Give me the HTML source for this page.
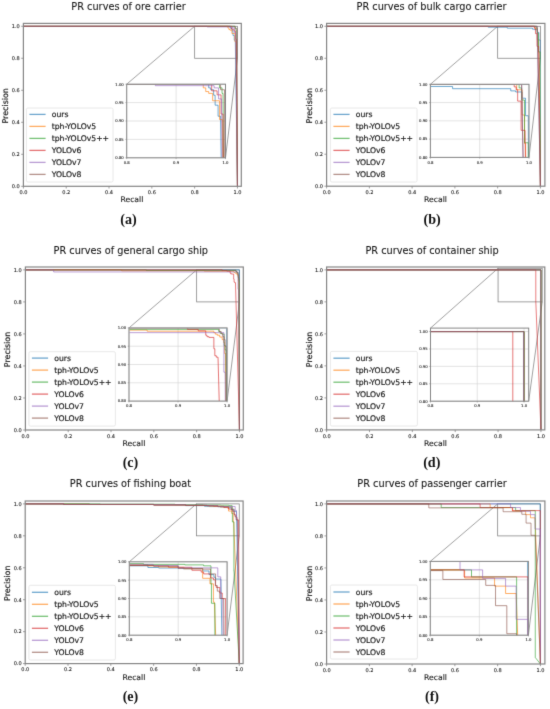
<!DOCTYPE html>
<html><head><meta charset="utf-8"><title>PR curves</title>
<style>html,body{margin:0;padding:0;background:#fff;} svg{display:block;}</style>
</head><body>
<svg width="550" height="709" viewBox="0 0 550 709">
<defs><filter id="bl" filterUnits="userSpaceOnUse" x="-10" y="-10" width="570" height="729" color-interpolation-filters="sRGB"><feConvolveMatrix order="3" kernelMatrix="0.0100 0.0800 0.0100 0.0800 0.6400 0.0800 0.0100 0.0800 0.0100" divisor="1" edgeMode="duplicate" preserveAlpha="true"/></filter></defs>
<rect width="550" height="709" fill="#fff"/>
<g filter="url(#bl)">
<rect x="-10" y="-10" width="570" height="729" fill="#fff"/>
<clipPath id="c0"><rect x="23.4" y="23.4" width="217.9" height="162.9"/></clipPath>
<rect x="194.64" y="26.28" width="42.81" height="32" fill="none" stroke="#888" stroke-width="0.8"/>
<line x1="194.64" y1="26.28" x2="126.7" y2="84.2" stroke="#888" stroke-width="0.8"/>
<line x1="237.45" y1="58.28" x2="225.5" y2="157.8" stroke="#888" stroke-width="0.8"/>
<g clip-path="url(#c0)" fill="none" stroke-width="0.8" stroke-opacity="0.75" stroke-linejoin="miter">
<path d="M23.4 26.28L230.17 26.28L230.17 27.88L231.03 27.88L231.03 28.68L232.31 28.68L232.31 31.08L232.95 31.08L232.95 35.4L234.24 35.4L234.24 40.2L235.31 40.2L237.45 186.3" stroke="#1f77b4"/>
<path d="M23.4 26.28L227.82 26.28L227.82 27.88L228.89 27.88L228.89 29.48L230.17 29.48L230.17 30.28L231.88 30.28L231.88 33.48L234.88 33.48L234.88 41.64L236.06 41.64L237.45 186.3" stroke="#ff7f0e"/>
<path d="M23.4 26.28L234.88 26.28L234.88 27.88L235.95 27.88L235.95 30.28L236.38 30.28L237.45 186.3" stroke="#2ca02c"/>
<path d="M23.4 26.28L231.45 26.28L231.45 29.16L233.81 29.16L233.81 30.92L235.52 30.92L235.52 39.24L236.38 39.24L237.45 186.3" stroke="#d62728"/>
<path d="M23.4 26.28L207.05 26.28L207.05 26.92L232.52 26.92L232.52 27.88L234.45 27.88L234.45 32.68L235.73 32.68L237.45 186.3" stroke="#9467bd"/>
<path d="M23.4 26.28L235.31 26.28L235.31 28.68L237.02 28.68L237.45 186.3" stroke="#8c564b"/>
</g>
<rect x="26.4" y="108" width="86.6" height="74" rx="1.5" fill="#fff" fill-opacity="0.85" stroke="#e2e2e2" stroke-width="0.8"/>
<line x1="29.4" y1="114.4" x2="45.6" y2="114.4" stroke="#1f77b4" stroke-width="1.3" stroke-opacity="0.65"/>
<text x="51.7" y="117.2" font-size="7.7" text-anchor="start" fill="#1a1a1a" font-family="'DejaVu Sans', sans-serif" font-weight="normal"  stroke="#1a1a1a" stroke-width="0.18">ours</text>
<line x1="29.4" y1="126.4" x2="45.6" y2="126.4" stroke="#ff7f0e" stroke-width="1.3" stroke-opacity="0.65"/>
<text x="51.7" y="129.2" font-size="7.7" text-anchor="start" fill="#1a1a1a" font-family="'DejaVu Sans', sans-serif" font-weight="normal"  stroke="#1a1a1a" stroke-width="0.18">tph-YOLOv5</text>
<line x1="29.4" y1="138.4" x2="45.6" y2="138.4" stroke="#2ca02c" stroke-width="1.3" stroke-opacity="0.65"/>
<text x="51.7" y="141.2" font-size="7.7" text-anchor="start" fill="#1a1a1a" font-family="'DejaVu Sans', sans-serif" font-weight="normal"  stroke="#1a1a1a" stroke-width="0.18">tph-YOLOv5++</text>
<line x1="29.4" y1="150.4" x2="45.6" y2="150.4" stroke="#d62728" stroke-width="1.3" stroke-opacity="0.65"/>
<text x="51.7" y="153.2" font-size="7.7" text-anchor="start" fill="#1a1a1a" font-family="'DejaVu Sans', sans-serif" font-weight="normal"  stroke="#1a1a1a" stroke-width="0.18">YOLOv6</text>
<line x1="29.4" y1="162.4" x2="45.6" y2="162.4" stroke="#9467bd" stroke-width="1.3" stroke-opacity="0.65"/>
<text x="51.7" y="165.2" font-size="7.7" text-anchor="start" fill="#1a1a1a" font-family="'DejaVu Sans', sans-serif" font-weight="normal"  stroke="#1a1a1a" stroke-width="0.18">YOLOv7</text>
<line x1="29.4" y1="174.4" x2="45.6" y2="174.4" stroke="#8c564b" stroke-width="1.3" stroke-opacity="0.65"/>
<text x="51.7" y="177.2" font-size="7.7" text-anchor="start" fill="#1a1a1a" font-family="'DejaVu Sans', sans-serif" font-weight="normal"  stroke="#1a1a1a" stroke-width="0.18">YOLOv8</text>
<clipPath id="ic0"><rect x="127.2" y="84.7" width="98.3" height="73.1"/></clipPath>
<rect x="126.7" y="84.2" width="98.8" height="73.60000000000001" fill="#fff"/>
<line x1="126.7" y1="84.2" x2="126.7" y2="157.8" stroke="#d0d0d0" stroke-width="0.6"/>
<line x1="176.1" y1="84.2" x2="176.1" y2="157.8" stroke="#d0d0d0" stroke-width="0.6"/>
<line x1="225.5" y1="84.2" x2="225.5" y2="157.8" stroke="#d0d0d0" stroke-width="0.6"/>
<line x1="126.7" y1="157.8" x2="225.5" y2="157.8" stroke="#d0d0d0" stroke-width="0.6"/>
<line x1="126.7" y1="139.4" x2="225.5" y2="139.4" stroke="#d0d0d0" stroke-width="0.6"/>
<line x1="126.7" y1="121" x2="225.5" y2="121" stroke="#d0d0d0" stroke-width="0.6"/>
<line x1="126.7" y1="102.6" x2="225.5" y2="102.6" stroke="#d0d0d0" stroke-width="0.6"/>
<line x1="126.7" y1="84.2" x2="225.5" y2="84.2" stroke="#d0d0d0" stroke-width="0.6"/>
<g clip-path="url(#ic0)" fill="none" stroke-width="0.8" stroke-opacity="0.8">
<path d="M-268.5 84.2L208.7 84.2L208.7 87.88L210.68 87.88L210.68 89.72L213.64 89.72L213.64 95.24L215.13 95.24L215.13 105.18L218.09 105.18L218.09 116.22L220.56 116.22L225.5 452.2" stroke="#1f77b4"/>
<path d="M-268.5 84.2L203.27 84.2L203.27 87.88L205.74 87.88L205.74 91.56L208.7 91.56L208.7 93.4L212.66 93.4L212.66 100.76L219.57 100.76L219.57 119.53L222.29 119.53L225.5 452.2" stroke="#ff7f0e"/>
<path d="M-268.5 84.2L219.57 84.2L219.57 87.88L222.04 87.88L222.04 93.4L223.03 93.4L225.5 452.2" stroke="#2ca02c"/>
<path d="M-268.5 84.2L211.67 84.2L211.67 90.82L217.1 90.82L217.1 94.87L221.05 94.87L221.05 114.01L223.03 114.01L225.5 452.2" stroke="#d62728"/>
<path d="M-268.5 84.2L155.35 84.2L155.35 85.67L214.14 85.67L214.14 87.88L218.58 87.88L218.58 98.92L221.55 98.92L225.5 452.2" stroke="#9467bd"/>
<path d="M-268.5 84.2L220.56 84.2L220.56 89.72L224.51 89.72L225.5 452.2" stroke="#8c564b"/>
</g>
<rect x="126.7" y="84.2" width="98.8" height="73.6" fill="none" stroke="#858585" stroke-width="1.0"/>
<line x1="125.4" y1="157.8" x2="126.7" y2="157.8" stroke="#858585" stroke-width="0.6"/>
<text transform="translate(123.8 159.15) scale(0.3800)" font-size="10" text-anchor="end" fill="#1a1a1a" font-family="'DejaVu Sans', sans-serif" font-weight="normal"  stroke="#1a1a1a" stroke-width="0.25">0.80</text>
<line x1="125.4" y1="139.4" x2="126.7" y2="139.4" stroke="#858585" stroke-width="0.6"/>
<text transform="translate(123.8 140.75) scale(0.3800)" font-size="10" text-anchor="end" fill="#1a1a1a" font-family="'DejaVu Sans', sans-serif" font-weight="normal"  stroke="#1a1a1a" stroke-width="0.25">0.85</text>
<line x1="125.4" y1="121" x2="126.7" y2="121" stroke="#858585" stroke-width="0.6"/>
<text transform="translate(123.8 122.35) scale(0.3800)" font-size="10" text-anchor="end" fill="#1a1a1a" font-family="'DejaVu Sans', sans-serif" font-weight="normal"  stroke="#1a1a1a" stroke-width="0.25">0.90</text>
<line x1="125.4" y1="102.6" x2="126.7" y2="102.6" stroke="#858585" stroke-width="0.6"/>
<text transform="translate(123.8 103.95) scale(0.3800)" font-size="10" text-anchor="end" fill="#1a1a1a" font-family="'DejaVu Sans', sans-serif" font-weight="normal"  stroke="#1a1a1a" stroke-width="0.25">0.95</text>
<line x1="125.4" y1="84.2" x2="126.7" y2="84.2" stroke="#858585" stroke-width="0.6"/>
<text transform="translate(123.8 85.55) scale(0.3800)" font-size="10" text-anchor="end" fill="#1a1a1a" font-family="'DejaVu Sans', sans-serif" font-weight="normal"  stroke="#1a1a1a" stroke-width="0.25">1.00</text>
<line x1="126.7" y1="157.8" x2="126.7" y2="159.1" stroke="#858585" stroke-width="0.6"/>
<text transform="translate(126.7 164) scale(0.3800)" font-size="10" text-anchor="middle" fill="#1a1a1a" font-family="'DejaVu Sans', sans-serif" font-weight="normal"  stroke="#1a1a1a" stroke-width="0.25">0.8</text>
<line x1="176.1" y1="157.8" x2="176.1" y2="159.1" stroke="#858585" stroke-width="0.6"/>
<text transform="translate(176.1 164) scale(0.3800)" font-size="10" text-anchor="middle" fill="#1a1a1a" font-family="'DejaVu Sans', sans-serif" font-weight="normal"  stroke="#1a1a1a" stroke-width="0.25">0.9</text>
<line x1="225.5" y1="157.8" x2="225.5" y2="159.1" stroke="#858585" stroke-width="0.6"/>
<text transform="translate(225.5 164) scale(0.3800)" font-size="10" text-anchor="middle" fill="#1a1a1a" font-family="'DejaVu Sans', sans-serif" font-weight="normal"  stroke="#1a1a1a" stroke-width="0.25">1.0</text>
<rect x="23.4" y="23.4" width="217.9" height="162.9" fill="none" stroke="#858585" stroke-width="1.2"/>
<line x1="23.4" y1="186.3" x2="23.4" y2="188.5" stroke="#858585" stroke-width="0.8"/>
<line x1="21.2" y1="186.3" x2="23.4" y2="186.3" stroke="#858585" stroke-width="0.8"/>
<text transform="translate(23.4 193.9) scale(0.5000)" font-size="10" text-anchor="middle" fill="#1a1a1a" font-family="'DejaVu Sans', sans-serif" font-weight="normal"  stroke="#1a1a1a" stroke-width="0.2">0.0</text>
<text transform="translate(19.8 188.1) scale(0.5000)" font-size="10" text-anchor="end" fill="#1a1a1a" font-family="'DejaVu Sans', sans-serif" font-weight="normal"  stroke="#1a1a1a" stroke-width="0.2">0.0</text>
<line x1="66.21" y1="186.3" x2="66.21" y2="188.5" stroke="#858585" stroke-width="0.8"/>
<line x1="21.2" y1="154.3" x2="23.4" y2="154.3" stroke="#858585" stroke-width="0.8"/>
<text transform="translate(66.21 193.9) scale(0.5000)" font-size="10" text-anchor="middle" fill="#1a1a1a" font-family="'DejaVu Sans', sans-serif" font-weight="normal"  stroke="#1a1a1a" stroke-width="0.2">0.2</text>
<text transform="translate(19.8 156.1) scale(0.5000)" font-size="10" text-anchor="end" fill="#1a1a1a" font-family="'DejaVu Sans', sans-serif" font-weight="normal"  stroke="#1a1a1a" stroke-width="0.2">0.2</text>
<line x1="109.02" y1="186.3" x2="109.02" y2="188.5" stroke="#858585" stroke-width="0.8"/>
<line x1="21.2" y1="122.29" x2="23.4" y2="122.29" stroke="#858585" stroke-width="0.8"/>
<text transform="translate(109.02 193.9) scale(0.5000)" font-size="10" text-anchor="middle" fill="#1a1a1a" font-family="'DejaVu Sans', sans-serif" font-weight="normal"  stroke="#1a1a1a" stroke-width="0.2">0.4</text>
<text transform="translate(19.8 124.09) scale(0.5000)" font-size="10" text-anchor="end" fill="#1a1a1a" font-family="'DejaVu Sans', sans-serif" font-weight="normal"  stroke="#1a1a1a" stroke-width="0.2">0.4</text>
<line x1="151.83" y1="186.3" x2="151.83" y2="188.5" stroke="#858585" stroke-width="0.8"/>
<line x1="21.2" y1="90.29" x2="23.4" y2="90.29" stroke="#858585" stroke-width="0.8"/>
<text transform="translate(151.83 193.9) scale(0.5000)" font-size="10" text-anchor="middle" fill="#1a1a1a" font-family="'DejaVu Sans', sans-serif" font-weight="normal"  stroke="#1a1a1a" stroke-width="0.2">0.6</text>
<text transform="translate(19.8 92.09) scale(0.5000)" font-size="10" text-anchor="end" fill="#1a1a1a" font-family="'DejaVu Sans', sans-serif" font-weight="normal"  stroke="#1a1a1a" stroke-width="0.2">0.6</text>
<line x1="194.64" y1="186.3" x2="194.64" y2="188.5" stroke="#858585" stroke-width="0.8"/>
<line x1="21.2" y1="58.28" x2="23.4" y2="58.28" stroke="#858585" stroke-width="0.8"/>
<text transform="translate(194.64 193.9) scale(0.5000)" font-size="10" text-anchor="middle" fill="#1a1a1a" font-family="'DejaVu Sans', sans-serif" font-weight="normal"  stroke="#1a1a1a" stroke-width="0.2">0.8</text>
<text transform="translate(19.8 60.08) scale(0.5000)" font-size="10" text-anchor="end" fill="#1a1a1a" font-family="'DejaVu Sans', sans-serif" font-weight="normal"  stroke="#1a1a1a" stroke-width="0.2">0.8</text>
<line x1="237.45" y1="186.3" x2="237.45" y2="188.5" stroke="#858585" stroke-width="0.8"/>
<line x1="21.2" y1="26.28" x2="23.4" y2="26.28" stroke="#858585" stroke-width="0.8"/>
<text transform="translate(237.45 193.9) scale(0.5000)" font-size="10" text-anchor="middle" fill="#1a1a1a" font-family="'DejaVu Sans', sans-serif" font-weight="normal"  stroke="#1a1a1a" stroke-width="0.2">1.0</text>
<text transform="translate(19.8 28.08) scale(0.5000)" font-size="10" text-anchor="end" fill="#1a1a1a" font-family="'DejaVu Sans', sans-serif" font-weight="normal"  stroke="#1a1a1a" stroke-width="0.2">1.0</text>
<text x="128.6" y="10" font-size="9.75" text-anchor="middle" fill="#1a1a1a" font-family="'DejaVu Sans', sans-serif" font-weight="normal"  stroke="#1a1a1a" stroke-width="0.1">PR curves of ore carrier</text>
<text x="131.9" y="202.2" font-size="7.7" text-anchor="middle" fill="#1a1a1a" font-family="'DejaVu Sans', sans-serif" font-weight="normal"  stroke="#1a1a1a" stroke-width="0.12">Recall</text>
<text transform="translate(8.4 105.85) rotate(-90)" font-size="7.95" text-anchor="middle" fill="#1a1a1a" font-family="'DejaVu Sans', sans-serif" stroke="#1a1a1a" stroke-width="0.2">Precision</text>
<text x="128.5" y="224" font-size="14.1" text-anchor="middle" fill="#111" font-family="'Liberation Serif', serif" font-weight="bold" >(a)</text>
<clipPath id="c1"><rect x="326.6" y="23.4" width="218.29999999999995" height="162.79999999999998"/></clipPath>
<rect x="497.65" y="26.28" width="42.76" height="31.98" fill="none" stroke="#888" stroke-width="0.8"/>
<line x1="497.65" y1="26.28" x2="430.4" y2="84.3" stroke="#888" stroke-width="0.8"/>
<line x1="540.41" y1="58.26" x2="529.0" y2="157.4" stroke="#888" stroke-width="0.8"/>
<g clip-path="url(#c1)" fill="none" stroke-width="0.8" stroke-opacity="0.75" stroke-linejoin="miter">
<path d="M326.6 26.28L488.24 26.28L488.24 27.24L507.27 27.24L507.27 28.2L532.5 28.2L532.5 29.16L534.64 29.16L534.64 29.64L537.42 29.64L537.42 32.36L538.91 32.36L538.91 40.03L540.11 40.03L540.41 186.2" stroke="#1f77b4"/>
<path d="M326.6 26.28L535.06 26.28L535.06 28.68L537.42 28.68L537.42 39.71L538.49 39.71L538.49 52.19L538.91 52.19L540.41 186.2" stroke="#ff7f0e"/>
<path d="M326.6 26.28L536.13 26.28L536.13 27.88L537.2 27.88L537.2 33.16L538.49 33.16L538.49 51.87L540.11 51.87L540.41 186.2" stroke="#2ca02c"/>
<path d="M326.6 26.28L534 26.28L534 27.4L534.85 27.4L534.85 28.68L535.49 28.68L535.49 33.63L536.99 33.63L536.99 46.43L538.7 46.43L540.41 186.2" stroke="#d62728"/>
<path d="M326.6 26.28L537.2 26.28L540.41 186.2" stroke="#9467bd"/>
<path d="M326.6 26.28L537.2 26.28L540.41 186.2" stroke="#8c564b"/>
</g>
<rect x="330.4" y="108" width="86.60000000000002" height="74" rx="1.5" fill="#fff" fill-opacity="0.85" stroke="#e2e2e2" stroke-width="0.8"/>
<line x1="333.4" y1="114.4" x2="349.6" y2="114.4" stroke="#1f77b4" stroke-width="1.3" stroke-opacity="0.65"/>
<text x="355.7" y="117.2" font-size="7.7" text-anchor="start" fill="#1a1a1a" font-family="'DejaVu Sans', sans-serif" font-weight="normal"  stroke="#1a1a1a" stroke-width="0.18">ours</text>
<line x1="333.4" y1="126.4" x2="349.6" y2="126.4" stroke="#ff7f0e" stroke-width="1.3" stroke-opacity="0.65"/>
<text x="355.7" y="129.2" font-size="7.7" text-anchor="start" fill="#1a1a1a" font-family="'DejaVu Sans', sans-serif" font-weight="normal"  stroke="#1a1a1a" stroke-width="0.18">tph-YOLOv5</text>
<line x1="333.4" y1="138.4" x2="349.6" y2="138.4" stroke="#2ca02c" stroke-width="1.3" stroke-opacity="0.65"/>
<text x="355.7" y="141.2" font-size="7.7" text-anchor="start" fill="#1a1a1a" font-family="'DejaVu Sans', sans-serif" font-weight="normal"  stroke="#1a1a1a" stroke-width="0.18">tph-YOLOv5++</text>
<line x1="333.4" y1="150.4" x2="349.6" y2="150.4" stroke="#d62728" stroke-width="1.3" stroke-opacity="0.65"/>
<text x="355.7" y="153.2" font-size="7.7" text-anchor="start" fill="#1a1a1a" font-family="'DejaVu Sans', sans-serif" font-weight="normal"  stroke="#1a1a1a" stroke-width="0.18">YOLOv6</text>
<line x1="333.4" y1="162.4" x2="349.6" y2="162.4" stroke="#9467bd" stroke-width="1.3" stroke-opacity="0.65"/>
<text x="355.7" y="165.2" font-size="7.7" text-anchor="start" fill="#1a1a1a" font-family="'DejaVu Sans', sans-serif" font-weight="normal"  stroke="#1a1a1a" stroke-width="0.18">YOLOv7</text>
<line x1="333.4" y1="174.4" x2="349.6" y2="174.4" stroke="#8c564b" stroke-width="1.3" stroke-opacity="0.65"/>
<text x="355.7" y="177.2" font-size="7.7" text-anchor="start" fill="#1a1a1a" font-family="'DejaVu Sans', sans-serif" font-weight="normal"  stroke="#1a1a1a" stroke-width="0.18">YOLOv8</text>
<clipPath id="ic1"><rect x="430.9" y="84.8" width="98.1" height="72.6"/></clipPath>
<rect x="430.4" y="84.3" width="98.60000000000002" height="73.10000000000001" fill="#fff"/>
<line x1="430.4" y1="84.3" x2="430.4" y2="157.4" stroke="#d0d0d0" stroke-width="0.6"/>
<line x1="479.7" y1="84.3" x2="479.7" y2="157.4" stroke="#d0d0d0" stroke-width="0.6"/>
<line x1="529" y1="84.3" x2="529" y2="157.4" stroke="#d0d0d0" stroke-width="0.6"/>
<line x1="430.4" y1="157.4" x2="529.0" y2="157.4" stroke="#d0d0d0" stroke-width="0.6"/>
<line x1="430.4" y1="139.13" x2="529.0" y2="139.13" stroke="#d0d0d0" stroke-width="0.6"/>
<line x1="430.4" y1="120.85" x2="529.0" y2="120.85" stroke="#d0d0d0" stroke-width="0.6"/>
<line x1="430.4" y1="102.58" x2="529.0" y2="102.58" stroke="#d0d0d0" stroke-width="0.6"/>
<line x1="430.4" y1="84.3" x2="529.0" y2="84.3" stroke="#d0d0d0" stroke-width="0.6"/>
<g clip-path="url(#ic1)" fill="none" stroke-width="0.8" stroke-opacity="0.8">
<path d="M36 84.3L408.71 84.3L408.71 86.49L452.58 86.49L452.58 88.69L510.76 88.69L510.76 90.88L515.69 90.88L515.69 91.98L522.1 91.98L522.1 98.19L525.55 98.19L525.55 115.73L528.31 115.73L529 449.8" stroke="#1f77b4"/>
<path d="M36 84.3L516.67 84.3L516.67 89.78L522.1 89.78L522.1 115L524.56 115L524.56 143.51L525.55 143.51L529 449.8" stroke="#ff7f0e"/>
<path d="M36 84.3L519.14 84.3L519.14 87.95L521.61 87.95L521.61 100.02L524.56 100.02L524.56 142.78L528.31 142.78L529 449.8" stroke="#2ca02c"/>
<path d="M36 84.3L514.21 84.3L514.21 86.86L516.18 86.86L516.18 89.78L517.66 89.78L517.66 101.11L521.11 101.11L521.11 130.35L525.06 130.35L529 449.8" stroke="#d62728"/>
<path d="M36 84.3L521.61 84.3L529 449.8" stroke="#9467bd"/>
<path d="M36 84.3L521.61 84.3L529 449.8" stroke="#8c564b"/>
</g>
<rect x="430.4" y="84.3" width="98.6" height="73.1" fill="none" stroke="#858585" stroke-width="1.0"/>
<line x1="429.1" y1="157.4" x2="430.4" y2="157.4" stroke="#858585" stroke-width="0.6"/>
<text transform="translate(427.5 158.75) scale(0.3800)" font-size="10" text-anchor="end" fill="#1a1a1a" font-family="'DejaVu Sans', sans-serif" font-weight="normal"  stroke="#1a1a1a" stroke-width="0.25">0.80</text>
<line x1="429.1" y1="139.13" x2="430.4" y2="139.13" stroke="#858585" stroke-width="0.6"/>
<text transform="translate(427.5 140.48) scale(0.3800)" font-size="10" text-anchor="end" fill="#1a1a1a" font-family="'DejaVu Sans', sans-serif" font-weight="normal"  stroke="#1a1a1a" stroke-width="0.25">0.85</text>
<line x1="429.1" y1="120.85" x2="430.4" y2="120.85" stroke="#858585" stroke-width="0.6"/>
<text transform="translate(427.5 122.2) scale(0.3800)" font-size="10" text-anchor="end" fill="#1a1a1a" font-family="'DejaVu Sans', sans-serif" font-weight="normal"  stroke="#1a1a1a" stroke-width="0.25">0.90</text>
<line x1="429.1" y1="102.58" x2="430.4" y2="102.58" stroke="#858585" stroke-width="0.6"/>
<text transform="translate(427.5 103.93) scale(0.3800)" font-size="10" text-anchor="end" fill="#1a1a1a" font-family="'DejaVu Sans', sans-serif" font-weight="normal"  stroke="#1a1a1a" stroke-width="0.25">0.95</text>
<line x1="429.1" y1="84.3" x2="430.4" y2="84.3" stroke="#858585" stroke-width="0.6"/>
<text transform="translate(427.5 85.65) scale(0.3800)" font-size="10" text-anchor="end" fill="#1a1a1a" font-family="'DejaVu Sans', sans-serif" font-weight="normal"  stroke="#1a1a1a" stroke-width="0.25">1.00</text>
<line x1="430.4" y1="157.4" x2="430.4" y2="158.7" stroke="#858585" stroke-width="0.6"/>
<text transform="translate(430.4 163.6) scale(0.3800)" font-size="10" text-anchor="middle" fill="#1a1a1a" font-family="'DejaVu Sans', sans-serif" font-weight="normal"  stroke="#1a1a1a" stroke-width="0.25">0.8</text>
<line x1="479.7" y1="157.4" x2="479.7" y2="158.7" stroke="#858585" stroke-width="0.6"/>
<text transform="translate(479.7 163.6) scale(0.3800)" font-size="10" text-anchor="middle" fill="#1a1a1a" font-family="'DejaVu Sans', sans-serif" font-weight="normal"  stroke="#1a1a1a" stroke-width="0.25">0.9</text>
<line x1="529" y1="157.4" x2="529" y2="158.7" stroke="#858585" stroke-width="0.6"/>
<text transform="translate(529 163.6) scale(0.3800)" font-size="10" text-anchor="middle" fill="#1a1a1a" font-family="'DejaVu Sans', sans-serif" font-weight="normal"  stroke="#1a1a1a" stroke-width="0.25">1.0</text>
<rect x="326.6" y="23.4" width="218.3" height="162.8" fill="none" stroke="#858585" stroke-width="1.2"/>
<line x1="326.6" y1="186.2" x2="326.6" y2="188.4" stroke="#858585" stroke-width="0.8"/>
<line x1="324.4" y1="186.2" x2="326.6" y2="186.2" stroke="#858585" stroke-width="0.8"/>
<text transform="translate(326.6 193.8) scale(0.5000)" font-size="10" text-anchor="middle" fill="#1a1a1a" font-family="'DejaVu Sans', sans-serif" font-weight="normal"  stroke="#1a1a1a" stroke-width="0.2">0.0</text>
<text transform="translate(323 188) scale(0.5000)" font-size="10" text-anchor="end" fill="#1a1a1a" font-family="'DejaVu Sans', sans-serif" font-weight="normal"  stroke="#1a1a1a" stroke-width="0.2">0.0</text>
<line x1="369.36" y1="186.2" x2="369.36" y2="188.4" stroke="#858585" stroke-width="0.8"/>
<line x1="324.4" y1="154.22" x2="326.6" y2="154.22" stroke="#858585" stroke-width="0.8"/>
<text transform="translate(369.36 193.8) scale(0.5000)" font-size="10" text-anchor="middle" fill="#1a1a1a" font-family="'DejaVu Sans', sans-serif" font-weight="normal"  stroke="#1a1a1a" stroke-width="0.2">0.2</text>
<text transform="translate(323 156.02) scale(0.5000)" font-size="10" text-anchor="end" fill="#1a1a1a" font-family="'DejaVu Sans', sans-serif" font-weight="normal"  stroke="#1a1a1a" stroke-width="0.2">0.2</text>
<line x1="412.12" y1="186.2" x2="412.12" y2="188.4" stroke="#858585" stroke-width="0.8"/>
<line x1="324.4" y1="122.23" x2="326.6" y2="122.23" stroke="#858585" stroke-width="0.8"/>
<text transform="translate(412.12 193.8) scale(0.5000)" font-size="10" text-anchor="middle" fill="#1a1a1a" font-family="'DejaVu Sans', sans-serif" font-weight="normal"  stroke="#1a1a1a" stroke-width="0.2">0.4</text>
<text transform="translate(323 124.03) scale(0.5000)" font-size="10" text-anchor="end" fill="#1a1a1a" font-family="'DejaVu Sans', sans-serif" font-weight="normal"  stroke="#1a1a1a" stroke-width="0.2">0.4</text>
<line x1="454.89" y1="186.2" x2="454.89" y2="188.4" stroke="#858585" stroke-width="0.8"/>
<line x1="324.4" y1="90.25" x2="326.6" y2="90.25" stroke="#858585" stroke-width="0.8"/>
<text transform="translate(454.89 193.8) scale(0.5000)" font-size="10" text-anchor="middle" fill="#1a1a1a" font-family="'DejaVu Sans', sans-serif" font-weight="normal"  stroke="#1a1a1a" stroke-width="0.2">0.6</text>
<text transform="translate(323 92.05) scale(0.5000)" font-size="10" text-anchor="end" fill="#1a1a1a" font-family="'DejaVu Sans', sans-serif" font-weight="normal"  stroke="#1a1a1a" stroke-width="0.2">0.6</text>
<line x1="497.65" y1="186.2" x2="497.65" y2="188.4" stroke="#858585" stroke-width="0.8"/>
<line x1="324.4" y1="58.26" x2="326.6" y2="58.26" stroke="#858585" stroke-width="0.8"/>
<text transform="translate(497.65 193.8) scale(0.5000)" font-size="10" text-anchor="middle" fill="#1a1a1a" font-family="'DejaVu Sans', sans-serif" font-weight="normal"  stroke="#1a1a1a" stroke-width="0.2">0.8</text>
<text transform="translate(323 60.06) scale(0.5000)" font-size="10" text-anchor="end" fill="#1a1a1a" font-family="'DejaVu Sans', sans-serif" font-weight="normal"  stroke="#1a1a1a" stroke-width="0.2">0.8</text>
<line x1="540.41" y1="186.2" x2="540.41" y2="188.4" stroke="#858585" stroke-width="0.8"/>
<line x1="324.4" y1="26.28" x2="326.6" y2="26.28" stroke="#858585" stroke-width="0.8"/>
<text transform="translate(540.41 193.8) scale(0.5000)" font-size="10" text-anchor="middle" fill="#1a1a1a" font-family="'DejaVu Sans', sans-serif" font-weight="normal"  stroke="#1a1a1a" stroke-width="0.2">1.0</text>
<text transform="translate(323 28.08) scale(0.5000)" font-size="10" text-anchor="end" fill="#1a1a1a" font-family="'DejaVu Sans', sans-serif" font-weight="normal"  stroke="#1a1a1a" stroke-width="0.2">1.0</text>
<text x="431.5" y="10" font-size="9.75" text-anchor="middle" fill="#1a1a1a" font-family="'DejaVu Sans', sans-serif" font-weight="normal"  stroke="#1a1a1a" stroke-width="0.1">PR curves of bulk cargo carrier</text>
<text x="435.5" y="202.2" font-size="7.7" text-anchor="middle" fill="#1a1a1a" font-family="'DejaVu Sans', sans-serif" font-weight="normal"  stroke="#1a1a1a" stroke-width="0.12">Recall</text>
<text transform="translate(311.6 105.8) rotate(-90)" font-size="7.95" text-anchor="middle" fill="#1a1a1a" font-family="'DejaVu Sans', sans-serif" stroke="#1a1a1a" stroke-width="0.2">Precision</text>
<text x="432.2" y="224" font-size="14.1" text-anchor="middle" fill="#111" font-family="'Liberation Serif', serif" font-weight="bold" >(b)</text>
<clipPath id="c2"><rect x="25.4" y="267.0" width="217.9" height="163.0"/></clipPath>
<rect x="196.64" y="269.88" width="42.81" height="32.02" fill="none" stroke="#888" stroke-width="0.8"/>
<line x1="196.64" y1="269.88" x2="129.0" y2="327.9" stroke="#888" stroke-width="0.8"/>
<line x1="239.45" y1="301.91" x2="227.1" y2="401.1" stroke="#888" stroke-width="0.8"/>
<g clip-path="url(#c2)" fill="none" stroke-width="0.8" stroke-opacity="0.75" stroke-linejoin="miter">
<path d="M25.4 269.88L239.32 269.88L239.45 430" stroke="#1f77b4"/>
<path d="M25.4 269.88L121.72 269.88L121.72 270.84L204.56 270.84L204.56 271.32L233.67 271.32L233.67 271.96L234.31 271.96L234.31 272.6L235.17 272.6L235.17 273.08L236.24 273.08L236.24 273.89L237.31 273.89L237.31 275.01L237.95 275.01L237.95 276.29L238.38 276.29L238.38 281.09L238.81 281.09L239.45 430" stroke="#ff7f0e"/>
<path d="M25.4 269.88L146.34 269.88L146.34 270.52L235.81 270.52L235.81 271.48L236.45 271.48L236.45 272.28L237.31 272.28L237.31 272.6L238.16 272.6L238.16 277.57L238.59 277.57L238.59 279.49L239.02 279.49L239.45 430" stroke="#2ca02c"/>
<path d="M25.4 269.88L222.11 269.88L222.11 270.52L226.82 270.52L226.82 271.16L230.14 271.16L230.14 273.08L230.67 273.08L230.67 273.72L231.53 273.72L231.53 274.05L233.67 274.05L233.67 279.01L234.1 279.01L234.1 282.05L234.74 282.05L234.74 282.69L235.49 282.69L239.45 430" stroke="#d62728"/>
<path d="M25.4 269.88L53.65 269.88L53.65 271.96L238.06 271.96L238.06 289.26L238.59 289.26L239.45 430" stroke="#9467bd"/>
<path d="M25.4 269.88L222.32 269.88L222.32 270.2L236.02 270.2L236.02 271.48L236.88 271.48L236.88 272.44L237.52 272.44L237.52 273.72L238.16 273.72L238.16 275.01L238.59 275.01L238.59 277.89L239.02 277.89L239.45 430" stroke="#8c564b"/>
</g>
<rect x="28.9" y="351.7" width="86.5" height="74.40000000000003" rx="1.5" fill="#fff" fill-opacity="0.85" stroke="#e2e2e2" stroke-width="0.8"/>
<line x1="31.9" y1="358.1" x2="48.1" y2="358.1" stroke="#1f77b4" stroke-width="1.3" stroke-opacity="0.65"/>
<text x="54.2" y="360.9" font-size="7.7" text-anchor="start" fill="#1a1a1a" font-family="'DejaVu Sans', sans-serif" font-weight="normal"  stroke="#1a1a1a" stroke-width="0.18">ours</text>
<line x1="31.9" y1="370.1" x2="48.1" y2="370.1" stroke="#ff7f0e" stroke-width="1.3" stroke-opacity="0.65"/>
<text x="54.2" y="372.9" font-size="7.7" text-anchor="start" fill="#1a1a1a" font-family="'DejaVu Sans', sans-serif" font-weight="normal"  stroke="#1a1a1a" stroke-width="0.18">tph-YOLOv5</text>
<line x1="31.9" y1="382.1" x2="48.1" y2="382.1" stroke="#2ca02c" stroke-width="1.3" stroke-opacity="0.65"/>
<text x="54.2" y="384.9" font-size="7.7" text-anchor="start" fill="#1a1a1a" font-family="'DejaVu Sans', sans-serif" font-weight="normal"  stroke="#1a1a1a" stroke-width="0.18">tph-YOLOv5++</text>
<line x1="31.9" y1="394.1" x2="48.1" y2="394.1" stroke="#d62728" stroke-width="1.3" stroke-opacity="0.65"/>
<text x="54.2" y="396.9" font-size="7.7" text-anchor="start" fill="#1a1a1a" font-family="'DejaVu Sans', sans-serif" font-weight="normal"  stroke="#1a1a1a" stroke-width="0.18">YOLOv6</text>
<line x1="31.9" y1="406.1" x2="48.1" y2="406.1" stroke="#9467bd" stroke-width="1.3" stroke-opacity="0.65"/>
<text x="54.2" y="408.9" font-size="7.7" text-anchor="start" fill="#1a1a1a" font-family="'DejaVu Sans', sans-serif" font-weight="normal"  stroke="#1a1a1a" stroke-width="0.18">YOLOv7</text>
<line x1="31.9" y1="418.1" x2="48.1" y2="418.1" stroke="#8c564b" stroke-width="1.3" stroke-opacity="0.65"/>
<text x="54.2" y="420.9" font-size="7.7" text-anchor="start" fill="#1a1a1a" font-family="'DejaVu Sans', sans-serif" font-weight="normal"  stroke="#1a1a1a" stroke-width="0.18">YOLOv8</text>
<clipPath id="ic2"><rect x="129.5" y="328.4" width="97.6" height="72.7"/></clipPath>
<rect x="129.0" y="327.9" width="98.1" height="73.20000000000005" fill="#fff"/>
<line x1="129" y1="327.9" x2="129" y2="401.1" stroke="#d0d0d0" stroke-width="0.6"/>
<line x1="178.05" y1="327.9" x2="178.05" y2="401.1" stroke="#d0d0d0" stroke-width="0.6"/>
<line x1="227.1" y1="327.9" x2="227.1" y2="401.1" stroke="#d0d0d0" stroke-width="0.6"/>
<line x1="129.0" y1="401.1" x2="227.1" y2="401.1" stroke="#d0d0d0" stroke-width="0.6"/>
<line x1="129.0" y1="382.8" x2="227.1" y2="382.8" stroke="#d0d0d0" stroke-width="0.6"/>
<line x1="129.0" y1="364.5" x2="227.1" y2="364.5" stroke="#d0d0d0" stroke-width="0.6"/>
<line x1="129.0" y1="346.2" x2="227.1" y2="346.2" stroke="#d0d0d0" stroke-width="0.6"/>
<line x1="129.0" y1="327.9" x2="227.1" y2="327.9" stroke="#d0d0d0" stroke-width="0.6"/>
<g clip-path="url(#ic2)" fill="none" stroke-width="0.8" stroke-opacity="0.8">
<path d="M-263.4 327.9L226.81 327.9L227.1 693.9" stroke="#1f77b4"/>
<path d="M-263.4 327.9L-42.68 327.9L-42.68 330.1L147.15 330.1L147.15 331.19L213.86 331.19L213.86 332.66L215.33 332.66L215.33 334.12L217.29 334.12L217.29 335.22L219.74 335.22L219.74 337.05L222.19 337.05L222.19 339.61L223.67 339.61L223.67 342.54L224.65 342.54L224.65 353.52L225.63 353.52L227.1 693.9" stroke="#ff7f0e"/>
<path d="M-263.4 327.9L13.73 327.9L13.73 329.36L218.76 329.36L218.76 331.56L220.23 331.56L220.23 333.39L222.19 333.39L222.19 334.12L224.16 334.12L224.16 345.47L225.14 345.47L225.14 349.86L226.12 349.86L227.1 693.9" stroke="#2ca02c"/>
<path d="M-263.4 327.9L187.37 327.9L187.37 329.36L198.16 329.36L198.16 330.83L205.76 330.83L205.76 335.22L206.99 335.22L206.99 336.68L208.95 336.68L208.95 337.42L213.86 337.42L213.86 348.76L214.84 348.76L214.84 355.72L216.31 355.72L216.31 357.18L218.03 357.18L227.1 693.9" stroke="#d62728"/>
<path d="M-263.4 327.9L-198.65 327.9L-198.65 332.66L223.91 332.66L223.91 372.19L225.14 372.19L227.1 693.9" stroke="#9467bd"/>
<path d="M-263.4 327.9L187.86 327.9L187.86 328.63L219.25 328.63L219.25 331.56L221.21 331.56L221.21 333.76L222.69 333.76L222.69 336.68L224.16 336.68L224.16 339.61L225.14 339.61L225.14 346.2L226.12 346.2L227.1 693.9" stroke="#8c564b"/>
</g>
<rect x="129.0" y="327.9" width="98.1" height="73.2" fill="none" stroke="#858585" stroke-width="1.0"/>
<line x1="127.7" y1="401.1" x2="129.0" y2="401.1" stroke="#858585" stroke-width="0.6"/>
<text transform="translate(126.1 402.45) scale(0.3800)" font-size="10" text-anchor="end" fill="#1a1a1a" font-family="'DejaVu Sans', sans-serif" font-weight="normal"  stroke="#1a1a1a" stroke-width="0.25">0.80</text>
<line x1="127.7" y1="382.8" x2="129.0" y2="382.8" stroke="#858585" stroke-width="0.6"/>
<text transform="translate(126.1 384.15) scale(0.3800)" font-size="10" text-anchor="end" fill="#1a1a1a" font-family="'DejaVu Sans', sans-serif" font-weight="normal"  stroke="#1a1a1a" stroke-width="0.25">0.85</text>
<line x1="127.7" y1="364.5" x2="129.0" y2="364.5" stroke="#858585" stroke-width="0.6"/>
<text transform="translate(126.1 365.85) scale(0.3800)" font-size="10" text-anchor="end" fill="#1a1a1a" font-family="'DejaVu Sans', sans-serif" font-weight="normal"  stroke="#1a1a1a" stroke-width="0.25">0.90</text>
<line x1="127.7" y1="346.2" x2="129.0" y2="346.2" stroke="#858585" stroke-width="0.6"/>
<text transform="translate(126.1 347.55) scale(0.3800)" font-size="10" text-anchor="end" fill="#1a1a1a" font-family="'DejaVu Sans', sans-serif" font-weight="normal"  stroke="#1a1a1a" stroke-width="0.25">0.95</text>
<line x1="127.7" y1="327.9" x2="129.0" y2="327.9" stroke="#858585" stroke-width="0.6"/>
<text transform="translate(126.1 329.25) scale(0.3800)" font-size="10" text-anchor="end" fill="#1a1a1a" font-family="'DejaVu Sans', sans-serif" font-weight="normal"  stroke="#1a1a1a" stroke-width="0.25">1.00</text>
<line x1="129" y1="401.1" x2="129" y2="402.4" stroke="#858585" stroke-width="0.6"/>
<text transform="translate(129 407.3) scale(0.3800)" font-size="10" text-anchor="middle" fill="#1a1a1a" font-family="'DejaVu Sans', sans-serif" font-weight="normal"  stroke="#1a1a1a" stroke-width="0.25">0.8</text>
<line x1="178.05" y1="401.1" x2="178.05" y2="402.4" stroke="#858585" stroke-width="0.6"/>
<text transform="translate(178.05 407.3) scale(0.3800)" font-size="10" text-anchor="middle" fill="#1a1a1a" font-family="'DejaVu Sans', sans-serif" font-weight="normal"  stroke="#1a1a1a" stroke-width="0.25">0.9</text>
<line x1="227.1" y1="401.1" x2="227.1" y2="402.4" stroke="#858585" stroke-width="0.6"/>
<text transform="translate(227.1 407.3) scale(0.3800)" font-size="10" text-anchor="middle" fill="#1a1a1a" font-family="'DejaVu Sans', sans-serif" font-weight="normal"  stroke="#1a1a1a" stroke-width="0.25">1.0</text>
<rect x="25.4" y="267.0" width="217.9" height="163" fill="none" stroke="#858585" stroke-width="1.2"/>
<line x1="25.4" y1="430.0" x2="25.4" y2="432.2" stroke="#858585" stroke-width="0.8"/>
<line x1="23.2" y1="430" x2="25.4" y2="430" stroke="#858585" stroke-width="0.8"/>
<text transform="translate(25.4 437.6) scale(0.5000)" font-size="10" text-anchor="middle" fill="#1a1a1a" font-family="'DejaVu Sans', sans-serif" font-weight="normal"  stroke="#1a1a1a" stroke-width="0.2">0.0</text>
<text transform="translate(21.8 431.8) scale(0.5000)" font-size="10" text-anchor="end" fill="#1a1a1a" font-family="'DejaVu Sans', sans-serif" font-weight="normal"  stroke="#1a1a1a" stroke-width="0.2">0.0</text>
<line x1="68.21" y1="430.0" x2="68.21" y2="432.2" stroke="#858585" stroke-width="0.8"/>
<line x1="23.2" y1="397.98" x2="25.4" y2="397.98" stroke="#858585" stroke-width="0.8"/>
<text transform="translate(68.21 437.6) scale(0.5000)" font-size="10" text-anchor="middle" fill="#1a1a1a" font-family="'DejaVu Sans', sans-serif" font-weight="normal"  stroke="#1a1a1a" stroke-width="0.2">0.2</text>
<text transform="translate(21.8 399.78) scale(0.5000)" font-size="10" text-anchor="end" fill="#1a1a1a" font-family="'DejaVu Sans', sans-serif" font-weight="normal"  stroke="#1a1a1a" stroke-width="0.2">0.2</text>
<line x1="111.02" y1="430.0" x2="111.02" y2="432.2" stroke="#858585" stroke-width="0.8"/>
<line x1="23.2" y1="365.95" x2="25.4" y2="365.95" stroke="#858585" stroke-width="0.8"/>
<text transform="translate(111.02 437.6) scale(0.5000)" font-size="10" text-anchor="middle" fill="#1a1a1a" font-family="'DejaVu Sans', sans-serif" font-weight="normal"  stroke="#1a1a1a" stroke-width="0.2">0.4</text>
<text transform="translate(21.8 367.75) scale(0.5000)" font-size="10" text-anchor="end" fill="#1a1a1a" font-family="'DejaVu Sans', sans-serif" font-weight="normal"  stroke="#1a1a1a" stroke-width="0.2">0.4</text>
<line x1="153.83" y1="430.0" x2="153.83" y2="432.2" stroke="#858585" stroke-width="0.8"/>
<line x1="23.2" y1="333.93" x2="25.4" y2="333.93" stroke="#858585" stroke-width="0.8"/>
<text transform="translate(153.83 437.6) scale(0.5000)" font-size="10" text-anchor="middle" fill="#1a1a1a" font-family="'DejaVu Sans', sans-serif" font-weight="normal"  stroke="#1a1a1a" stroke-width="0.2">0.6</text>
<text transform="translate(21.8 335.73) scale(0.5000)" font-size="10" text-anchor="end" fill="#1a1a1a" font-family="'DejaVu Sans', sans-serif" font-weight="normal"  stroke="#1a1a1a" stroke-width="0.2">0.6</text>
<line x1="196.64" y1="430.0" x2="196.64" y2="432.2" stroke="#858585" stroke-width="0.8"/>
<line x1="23.2" y1="301.91" x2="25.4" y2="301.91" stroke="#858585" stroke-width="0.8"/>
<text transform="translate(196.64 437.6) scale(0.5000)" font-size="10" text-anchor="middle" fill="#1a1a1a" font-family="'DejaVu Sans', sans-serif" font-weight="normal"  stroke="#1a1a1a" stroke-width="0.2">0.8</text>
<text transform="translate(21.8 303.71) scale(0.5000)" font-size="10" text-anchor="end" fill="#1a1a1a" font-family="'DejaVu Sans', sans-serif" font-weight="normal"  stroke="#1a1a1a" stroke-width="0.2">0.8</text>
<line x1="239.45" y1="430.0" x2="239.45" y2="432.2" stroke="#858585" stroke-width="0.8"/>
<line x1="23.2" y1="269.88" x2="25.4" y2="269.88" stroke="#858585" stroke-width="0.8"/>
<text transform="translate(239.45 437.6) scale(0.5000)" font-size="10" text-anchor="middle" fill="#1a1a1a" font-family="'DejaVu Sans', sans-serif" font-weight="normal"  stroke="#1a1a1a" stroke-width="0.2">1.0</text>
<text transform="translate(21.8 271.68) scale(0.5000)" font-size="10" text-anchor="end" fill="#1a1a1a" font-family="'DejaVu Sans', sans-serif" font-weight="normal"  stroke="#1a1a1a" stroke-width="0.2">1.0</text>
<text x="130.8" y="253.6" font-size="9.75" text-anchor="middle" fill="#1a1a1a" font-family="'DejaVu Sans', sans-serif" font-weight="normal"  stroke="#1a1a1a" stroke-width="0.1">PR curves of general cargo ship</text>
<text x="133.9" y="445.8" font-size="7.7" text-anchor="middle" fill="#1a1a1a" font-family="'DejaVu Sans', sans-serif" font-weight="normal"  stroke="#1a1a1a" stroke-width="0.12">Recall</text>
<text transform="translate(10.4 349.5) rotate(-90)" font-size="7.95" text-anchor="middle" fill="#1a1a1a" font-family="'DejaVu Sans', sans-serif" stroke="#1a1a1a" stroke-width="0.2">Precision</text>
<text x="130.5" y="467.3" font-size="14.1" text-anchor="middle" fill="#111" font-family="'Liberation Serif', serif" font-weight="bold" >(c)</text>
<clipPath id="c3"><rect x="326.6" y="267.0" width="218.19999999999993" height="162.89999999999998"/></clipPath>
<rect x="498.07" y="268.28" width="44.15" height="33.6" fill="none" stroke="#888" stroke-width="0.8"/>
<line x1="498.07" y1="268.28" x2="430.5" y2="328.1" stroke="#888" stroke-width="0.8"/>
<line x1="542.23" y1="301.88" x2="528.7" y2="401.2" stroke="#888" stroke-width="0.8"/>
<g clip-path="url(#c3)" fill="none" stroke-width="0.8" stroke-opacity="0.75" stroke-linejoin="miter">
<path d="M326.6 269.88L540.94 269.88L540.94 429.9" stroke="#1f77b4"/>
<path d="M326.6 269.88L540.94 269.88L540.94 429.9" stroke="#ff7f0e"/>
<path d="M326.6 269.88L540.94 269.88L540.94 429.9" stroke="#2ca02c"/>
<path d="M326.6 269.88L535.8 269.88L535.8 301.88L535.82 301.88L540.94 429.9" stroke="#d62728"/>
<path d="M326.6 269.88L540.73 269.88L540.94 429.9" stroke="#9467bd"/>
<path d="M326.6 269.88L540.94 269.88L540.94 429.9" stroke="#8c564b"/>
</g>
<rect x="330.4" y="351.4" width="87.0" height="74.60000000000002" rx="1.5" fill="#fff" fill-opacity="0.85" stroke="#e2e2e2" stroke-width="0.8"/>
<line x1="333.4" y1="358.2" x2="349.6" y2="358.2" stroke="#1f77b4" stroke-width="1.3" stroke-opacity="0.65"/>
<text x="355.7" y="361" font-size="7.7" text-anchor="start" fill="#1a1a1a" font-family="'DejaVu Sans', sans-serif" font-weight="normal"  stroke="#1a1a1a" stroke-width="0.18">ours</text>
<line x1="333.4" y1="370.2" x2="349.6" y2="370.2" stroke="#ff7f0e" stroke-width="1.3" stroke-opacity="0.65"/>
<text x="355.7" y="373" font-size="7.7" text-anchor="start" fill="#1a1a1a" font-family="'DejaVu Sans', sans-serif" font-weight="normal"  stroke="#1a1a1a" stroke-width="0.18">tph-YOLOv5</text>
<line x1="333.4" y1="382.2" x2="349.6" y2="382.2" stroke="#2ca02c" stroke-width="1.3" stroke-opacity="0.65"/>
<text x="355.7" y="385" font-size="7.7" text-anchor="start" fill="#1a1a1a" font-family="'DejaVu Sans', sans-serif" font-weight="normal"  stroke="#1a1a1a" stroke-width="0.18">tph-YOLOv5++</text>
<line x1="333.4" y1="394.2" x2="349.6" y2="394.2" stroke="#d62728" stroke-width="1.3" stroke-opacity="0.65"/>
<text x="355.7" y="397" font-size="7.7" text-anchor="start" fill="#1a1a1a" font-family="'DejaVu Sans', sans-serif" font-weight="normal"  stroke="#1a1a1a" stroke-width="0.18">YOLOv6</text>
<line x1="333.4" y1="406.2" x2="349.6" y2="406.2" stroke="#9467bd" stroke-width="1.3" stroke-opacity="0.65"/>
<text x="355.7" y="409" font-size="7.7" text-anchor="start" fill="#1a1a1a" font-family="'DejaVu Sans', sans-serif" font-weight="normal"  stroke="#1a1a1a" stroke-width="0.18">YOLOv7</text>
<line x1="333.4" y1="418.2" x2="349.6" y2="418.2" stroke="#8c564b" stroke-width="1.3" stroke-opacity="0.65"/>
<text x="355.7" y="421" font-size="7.7" text-anchor="start" fill="#1a1a1a" font-family="'DejaVu Sans', sans-serif" font-weight="normal"  stroke="#1a1a1a" stroke-width="0.18">YOLOv8</text>
<clipPath id="ic3"><rect x="431" y="328.6" width="97.7" height="72.6"/></clipPath>
<rect x="430.5" y="328.1" width="98.20000000000005" height="73.09999999999997" fill="#fff"/>
<line x1="430.5" y1="328.1" x2="430.5" y2="401.2" stroke="#d0d0d0" stroke-width="0.6"/>
<line x1="477.26" y1="328.1" x2="477.26" y2="401.2" stroke="#d0d0d0" stroke-width="0.6"/>
<line x1="524.02" y1="328.1" x2="524.02" y2="401.2" stroke="#d0d0d0" stroke-width="0.6"/>
<line x1="430.5" y1="401.2" x2="528.7" y2="401.2" stroke="#d0d0d0" stroke-width="0.6"/>
<line x1="430.5" y1="383.8" x2="528.7" y2="383.8" stroke="#d0d0d0" stroke-width="0.6"/>
<line x1="430.5" y1="366.39" x2="528.7" y2="366.39" stroke="#d0d0d0" stroke-width="0.6"/>
<line x1="430.5" y1="348.99" x2="528.7" y2="348.99" stroke="#d0d0d0" stroke-width="0.6"/>
<line x1="430.5" y1="331.58" x2="528.7" y2="331.58" stroke="#d0d0d0" stroke-width="0.6"/>
<g clip-path="url(#ic3)" fill="none" stroke-width="0.8" stroke-opacity="0.8">
<path d="M56.4 331.58L524.02 331.58L524.02 679.68" stroke="#1f77b4"/>
<path d="M56.4 331.58L524.02 331.58L524.02 679.68" stroke="#ff7f0e"/>
<path d="M56.4 331.58L524.02 331.58L524.02 679.68" stroke="#2ca02c"/>
<path d="M56.4 331.58L512.8 331.58L512.8 401.2L512.85 401.2L524.02 679.68" stroke="#d62728"/>
<path d="M56.4 331.58L523.56 331.58L524.02 679.68" stroke="#9467bd"/>
<path d="M56.4 331.58L524.02 331.58L524.02 679.68" stroke="#8c564b"/>
</g>
<rect x="430.5" y="328.1" width="98.2" height="73.1" fill="none" stroke="#858585" stroke-width="1.0"/>
<line x1="429.2" y1="401.2" x2="430.5" y2="401.2" stroke="#858585" stroke-width="0.6"/>
<text transform="translate(427.6 402.55) scale(0.3800)" font-size="10" text-anchor="end" fill="#1a1a1a" font-family="'DejaVu Sans', sans-serif" font-weight="normal"  stroke="#1a1a1a" stroke-width="0.25">0.80</text>
<line x1="429.2" y1="383.8" x2="430.5" y2="383.8" stroke="#858585" stroke-width="0.6"/>
<text transform="translate(427.6 385.15) scale(0.3800)" font-size="10" text-anchor="end" fill="#1a1a1a" font-family="'DejaVu Sans', sans-serif" font-weight="normal"  stroke="#1a1a1a" stroke-width="0.25">0.85</text>
<line x1="429.2" y1="366.39" x2="430.5" y2="366.39" stroke="#858585" stroke-width="0.6"/>
<text transform="translate(427.6 367.74) scale(0.3800)" font-size="10" text-anchor="end" fill="#1a1a1a" font-family="'DejaVu Sans', sans-serif" font-weight="normal"  stroke="#1a1a1a" stroke-width="0.25">0.90</text>
<line x1="429.2" y1="348.99" x2="430.5" y2="348.99" stroke="#858585" stroke-width="0.6"/>
<text transform="translate(427.6 350.34) scale(0.3800)" font-size="10" text-anchor="end" fill="#1a1a1a" font-family="'DejaVu Sans', sans-serif" font-weight="normal"  stroke="#1a1a1a" stroke-width="0.25">0.95</text>
<line x1="429.2" y1="331.58" x2="430.5" y2="331.58" stroke="#858585" stroke-width="0.6"/>
<text transform="translate(427.6 332.93) scale(0.3800)" font-size="10" text-anchor="end" fill="#1a1a1a" font-family="'DejaVu Sans', sans-serif" font-weight="normal"  stroke="#1a1a1a" stroke-width="0.25">1.00</text>
<line x1="430.5" y1="401.2" x2="430.5" y2="402.5" stroke="#858585" stroke-width="0.6"/>
<text transform="translate(430.5 407.4) scale(0.3800)" font-size="10" text-anchor="middle" fill="#1a1a1a" font-family="'DejaVu Sans', sans-serif" font-weight="normal"  stroke="#1a1a1a" stroke-width="0.25">0.8</text>
<line x1="477.26" y1="401.2" x2="477.26" y2="402.5" stroke="#858585" stroke-width="0.6"/>
<text transform="translate(477.26 407.4) scale(0.3800)" font-size="10" text-anchor="middle" fill="#1a1a1a" font-family="'DejaVu Sans', sans-serif" font-weight="normal"  stroke="#1a1a1a" stroke-width="0.25">0.9</text>
<line x1="524.02" y1="401.2" x2="524.02" y2="402.5" stroke="#858585" stroke-width="0.6"/>
<text transform="translate(524.02 407.4) scale(0.3800)" font-size="10" text-anchor="middle" fill="#1a1a1a" font-family="'DejaVu Sans', sans-serif" font-weight="normal"  stroke="#1a1a1a" stroke-width="0.25">1.0</text>
<rect x="326.6" y="267.0" width="218.2" height="162.9" fill="none" stroke="#858585" stroke-width="1.2"/>
<line x1="326.6" y1="429.9" x2="326.6" y2="432.1" stroke="#858585" stroke-width="0.8"/>
<line x1="324.4" y1="429.9" x2="326.6" y2="429.9" stroke="#858585" stroke-width="0.8"/>
<text transform="translate(326.6 437.5) scale(0.5000)" font-size="10" text-anchor="middle" fill="#1a1a1a" font-family="'DejaVu Sans', sans-serif" font-weight="normal"  stroke="#1a1a1a" stroke-width="0.2">0.0</text>
<text transform="translate(323 431.7) scale(0.5000)" font-size="10" text-anchor="end" fill="#1a1a1a" font-family="'DejaVu Sans', sans-serif" font-weight="normal"  stroke="#1a1a1a" stroke-width="0.2">0.0</text>
<line x1="369.47" y1="429.9" x2="369.47" y2="432.1" stroke="#858585" stroke-width="0.8"/>
<line x1="324.4" y1="397.9" x2="326.6" y2="397.9" stroke="#858585" stroke-width="0.8"/>
<text transform="translate(369.47 437.5) scale(0.5000)" font-size="10" text-anchor="middle" fill="#1a1a1a" font-family="'DejaVu Sans', sans-serif" font-weight="normal"  stroke="#1a1a1a" stroke-width="0.2">0.2</text>
<text transform="translate(323 399.7) scale(0.5000)" font-size="10" text-anchor="end" fill="#1a1a1a" font-family="'DejaVu Sans', sans-serif" font-weight="normal"  stroke="#1a1a1a" stroke-width="0.2">0.2</text>
<line x1="412.34" y1="429.9" x2="412.34" y2="432.1" stroke="#858585" stroke-width="0.8"/>
<line x1="324.4" y1="365.89" x2="326.6" y2="365.89" stroke="#858585" stroke-width="0.8"/>
<text transform="translate(412.34 437.5) scale(0.5000)" font-size="10" text-anchor="middle" fill="#1a1a1a" font-family="'DejaVu Sans', sans-serif" font-weight="normal"  stroke="#1a1a1a" stroke-width="0.2">0.4</text>
<text transform="translate(323 367.69) scale(0.5000)" font-size="10" text-anchor="end" fill="#1a1a1a" font-family="'DejaVu Sans', sans-serif" font-weight="normal"  stroke="#1a1a1a" stroke-width="0.2">0.4</text>
<line x1="455.21" y1="429.9" x2="455.21" y2="432.1" stroke="#858585" stroke-width="0.8"/>
<line x1="324.4" y1="333.89" x2="326.6" y2="333.89" stroke="#858585" stroke-width="0.8"/>
<text transform="translate(455.21 437.5) scale(0.5000)" font-size="10" text-anchor="middle" fill="#1a1a1a" font-family="'DejaVu Sans', sans-serif" font-weight="normal"  stroke="#1a1a1a" stroke-width="0.2">0.6</text>
<text transform="translate(323 335.69) scale(0.5000)" font-size="10" text-anchor="end" fill="#1a1a1a" font-family="'DejaVu Sans', sans-serif" font-weight="normal"  stroke="#1a1a1a" stroke-width="0.2">0.6</text>
<line x1="498.07" y1="429.9" x2="498.07" y2="432.1" stroke="#858585" stroke-width="0.8"/>
<line x1="324.4" y1="301.88" x2="326.6" y2="301.88" stroke="#858585" stroke-width="0.8"/>
<text transform="translate(498.07 437.5) scale(0.5000)" font-size="10" text-anchor="middle" fill="#1a1a1a" font-family="'DejaVu Sans', sans-serif" font-weight="normal"  stroke="#1a1a1a" stroke-width="0.2">0.8</text>
<text transform="translate(323 303.68) scale(0.5000)" font-size="10" text-anchor="end" fill="#1a1a1a" font-family="'DejaVu Sans', sans-serif" font-weight="normal"  stroke="#1a1a1a" stroke-width="0.2">0.8</text>
<line x1="540.94" y1="429.9" x2="540.94" y2="432.1" stroke="#858585" stroke-width="0.8"/>
<line x1="324.4" y1="269.88" x2="326.6" y2="269.88" stroke="#858585" stroke-width="0.8"/>
<text transform="translate(540.94 437.5) scale(0.5000)" font-size="10" text-anchor="middle" fill="#1a1a1a" font-family="'DejaVu Sans', sans-serif" font-weight="normal"  stroke="#1a1a1a" stroke-width="0.2">1.0</text>
<text transform="translate(323 271.68) scale(0.5000)" font-size="10" text-anchor="end" fill="#1a1a1a" font-family="'DejaVu Sans', sans-serif" font-weight="normal"  stroke="#1a1a1a" stroke-width="0.2">1.0</text>
<text x="432.1" y="253.6" font-size="9.75" text-anchor="middle" fill="#1a1a1a" font-family="'DejaVu Sans', sans-serif" font-weight="normal"  stroke="#1a1a1a" stroke-width="0.1">PR curves of container ship</text>
<text x="435.5" y="445.6" font-size="7.7" text-anchor="middle" fill="#1a1a1a" font-family="'DejaVu Sans', sans-serif" font-weight="normal"  stroke="#1a1a1a" stroke-width="0.12">Recall</text>
<text transform="translate(311.6 349.45) rotate(-90)" font-size="7.95" text-anchor="middle" fill="#1a1a1a" font-family="'DejaVu Sans', sans-serif" stroke="#1a1a1a" stroke-width="0.2">Precision</text>
<text x="431.8" y="467.3" font-size="14.1" text-anchor="middle" fill="#111" font-family="'Liberation Serif', serif" font-weight="bold" >(d)</text>
<clipPath id="c4"><rect x="25.2" y="501.0" width="217.9" height="162.60000000000002"/></clipPath>
<rect x="196.44" y="503.88" width="42.81" height="31.94" fill="none" stroke="#888" stroke-width="0.8"/>
<line x1="196.44" y1="503.88" x2="129.3" y2="561.8" stroke="#888" stroke-width="0.8"/>
<line x1="239.25" y1="535.82" x2="227.1" y2="635.2" stroke="#888" stroke-width="0.8"/>
<g clip-path="url(#c4)" fill="none" stroke-width="0.8" stroke-opacity="0.75" stroke-linejoin="miter">
<path d="M25.2 503.88L89.41 503.88L89.41 504.35L153.63 504.35L153.63 504.99L185.74 504.99L185.74 505.63L204.57 505.63L204.57 506.35L209.28 506.35L209.28 506.59L219.98 506.59L219.98 506.91L228.54 506.91L228.54 507.87L231.33 507.87L231.33 509.47L233.47 509.47L233.47 510.58L234.11 510.58L234.11 511.38L236.53 511.38L239.25 663.6" stroke="#1f77b4"/>
<path d="M25.2 503.88L89.41 503.88L89.41 504.35L153.63 504.35L153.63 504.83L185.74 504.83L185.74 505.15L204.57 505.15L204.57 505.63L209.28 505.63L209.28 506.11L213.56 506.11L213.56 506.27L220.41 506.27L220.41 506.91L228.54 506.91L228.54 511.06L231.76 511.06L231.76 513.46L233.25 513.46L233.25 521.44L233.68 521.44L239.25 663.6" stroke="#ff7f0e"/>
<path d="M25.2 503.88L100.12 503.88L100.12 504.19L175.03 504.19L175.03 504.67L202.65 504.67L202.65 504.99L220.71 504.99L220.71 505.22L228.97 505.22L228.97 505.63L232.18 505.63L232.18 513.46L232.4 513.46L232.4 521.92L233.9 521.92L233.9 570.96L234 570.96L239.25 663.6" stroke="#2ca02c"/>
<path d="M25.2 503.88L63.73 503.88L63.73 504.51L153.63 504.51L153.63 504.99L185.74 504.99L185.74 505.47L206.93 505.47L206.93 505.63L213.56 505.63L213.56 506.11L217.84 506.11L217.84 506.27L223.84 506.27L223.84 507.55L227.9 507.55L227.9 508.35L228.97 508.35L228.97 509.15L231.97 509.15L231.97 510.9L233.25 510.9L233.25 511.7L234.11 511.7L234.11 514.26L234.54 514.26L234.54 515.06L236.04 515.06L236.04 517.45L237.11 517.45L237.11 519.91L238.58 519.91L239.25 663.6" stroke="#d62728"/>
<path d="M25.2 503.88L63.73 503.88L63.73 504.35L153.63 504.35L153.63 504.67L185.74 504.67L185.74 504.99L206.93 504.99L206.93 505.47L217.84 505.47L217.84 506.51L235.18 506.51L235.18 510.42L236.46 510.42L236.46 519.85L237.32 519.85L239.25 663.6" stroke="#9467bd"/>
<path d="M25.2 503.88L63.73 503.88L63.73 504.51L153.63 504.51L153.63 504.99L185.74 504.99L185.74 505.47L207.14 505.47L207.14 505.79L217.84 505.79L217.84 506.75L228.54 506.75L228.54 507.07L231.97 507.07L231.97 509.15L234.2 509.15L234.2 514.26L234.97 514.26L234.97 516.65L236.04 516.65L236.04 519.85L237.75 519.85L239.25 663.6" stroke="#8c564b"/>
</g>
<rect x="28.9" y="585.3" width="86.5" height="74.70000000000005" rx="1.5" fill="#fff" fill-opacity="0.85" stroke="#e2e2e2" stroke-width="0.8"/>
<line x1="31.9" y1="592.3" x2="48.1" y2="592.3" stroke="#1f77b4" stroke-width="1.3" stroke-opacity="0.65"/>
<text x="54.2" y="595.1" font-size="7.7" text-anchor="start" fill="#1a1a1a" font-family="'DejaVu Sans', sans-serif" font-weight="normal"  stroke="#1a1a1a" stroke-width="0.18">ours</text>
<line x1="31.9" y1="604.3" x2="48.1" y2="604.3" stroke="#ff7f0e" stroke-width="1.3" stroke-opacity="0.65"/>
<text x="54.2" y="607.1" font-size="7.7" text-anchor="start" fill="#1a1a1a" font-family="'DejaVu Sans', sans-serif" font-weight="normal"  stroke="#1a1a1a" stroke-width="0.18">tph-YOLOv5</text>
<line x1="31.9" y1="616.3" x2="48.1" y2="616.3" stroke="#2ca02c" stroke-width="1.3" stroke-opacity="0.65"/>
<text x="54.2" y="619.1" font-size="7.7" text-anchor="start" fill="#1a1a1a" font-family="'DejaVu Sans', sans-serif" font-weight="normal"  stroke="#1a1a1a" stroke-width="0.18">tph-YOLOv5++</text>
<line x1="31.9" y1="628.3" x2="48.1" y2="628.3" stroke="#d62728" stroke-width="1.3" stroke-opacity="0.65"/>
<text x="54.2" y="631.1" font-size="7.7" text-anchor="start" fill="#1a1a1a" font-family="'DejaVu Sans', sans-serif" font-weight="normal"  stroke="#1a1a1a" stroke-width="0.18">YOLOv6</text>
<line x1="31.9" y1="640.3" x2="48.1" y2="640.3" stroke="#9467bd" stroke-width="1.3" stroke-opacity="0.65"/>
<text x="54.2" y="643.1" font-size="7.7" text-anchor="start" fill="#1a1a1a" font-family="'DejaVu Sans', sans-serif" font-weight="normal"  stroke="#1a1a1a" stroke-width="0.18">YOLOv7</text>
<line x1="31.9" y1="652.3" x2="48.1" y2="652.3" stroke="#8c564b" stroke-width="1.3" stroke-opacity="0.65"/>
<text x="54.2" y="655.1" font-size="7.7" text-anchor="start" fill="#1a1a1a" font-family="'DejaVu Sans', sans-serif" font-weight="normal"  stroke="#1a1a1a" stroke-width="0.18">YOLOv8</text>
<clipPath id="ic4"><rect x="129.8" y="562.3" width="97.3" height="72.9"/></clipPath>
<rect x="129.3" y="561.8" width="97.79999999999998" height="73.40000000000009" fill="#fff"/>
<line x1="129.3" y1="561.8" x2="129.3" y2="635.2" stroke="#d0d0d0" stroke-width="0.6"/>
<line x1="178.2" y1="561.8" x2="178.2" y2="635.2" stroke="#d0d0d0" stroke-width="0.6"/>
<line x1="227.1" y1="561.8" x2="227.1" y2="635.2" stroke="#d0d0d0" stroke-width="0.6"/>
<line x1="129.3" y1="635.2" x2="227.1" y2="635.2" stroke="#d0d0d0" stroke-width="0.6"/>
<line x1="129.3" y1="616.85" x2="227.1" y2="616.85" stroke="#d0d0d0" stroke-width="0.6"/>
<line x1="129.3" y1="598.5" x2="227.1" y2="598.5" stroke="#d0d0d0" stroke-width="0.6"/>
<line x1="129.3" y1="580.15" x2="227.1" y2="580.15" stroke="#d0d0d0" stroke-width="0.6"/>
<line x1="129.3" y1="561.8" x2="227.1" y2="561.8" stroke="#d0d0d0" stroke-width="0.6"/>
<g clip-path="url(#ic4)" fill="none" stroke-width="0.8" stroke-opacity="0.8">
<path d="M-261.9 561.8L-115.2 561.8L-115.2 562.9L31.5 562.9L31.5 564.37L104.85 564.37L104.85 565.84L147.88 565.84L147.88 567.49L158.64 567.49L158.64 568.04L183.09 568.04L183.09 568.77L202.65 568.77L202.65 570.98L209.01 570.98L209.01 574.64L213.9 574.64L213.9 577.21L215.36 577.21L215.36 579.05L220.89 579.05L227.1 928.8" stroke="#1f77b4"/>
<path d="M-261.9 561.8L-115.2 561.8L-115.2 562.9L31.5 562.9L31.5 564L104.85 564L104.85 564.74L147.88 564.74L147.88 565.84L158.64 565.84L158.64 566.94L168.42 566.94L168.42 567.3L184.07 567.3L184.07 568.77L202.65 568.77L202.65 578.31L209.98 578.31L209.98 583.82L213.41 583.82L213.41 602.17L214.39 602.17L227.1 928.8" stroke="#ff7f0e"/>
<path d="M-261.9 561.8L-90.75 561.8L-90.75 562.53L80.4 562.53L80.4 563.63L143.48 563.63L143.48 564.37L184.75 564.37L184.75 564.88L203.63 564.88L203.63 565.84L210.96 565.84L210.96 583.82L211.45 583.82L211.45 603.27L214.88 603.27L214.88 715.94L215.12 715.94L227.1 928.8" stroke="#2ca02c"/>
<path d="M-261.9 561.8L-173.88 561.8L-173.88 563.27L31.5 563.27L31.5 564.37L104.85 564.37L104.85 565.47L153.26 565.47L153.26 565.84L168.42 565.84L168.42 566.94L178.2 566.94L178.2 567.3L191.89 567.3L191.89 570.24L201.18 570.24L201.18 572.08L203.63 572.08L203.63 573.91L210.47 573.91L210.47 577.95L213.41 577.95L213.41 579.78L215.36 579.78L215.36 585.65L216.34 585.65L216.34 587.49L219.76 587.49L219.76 593L222.21 593L222.21 598.65L225.58 598.65L227.1 928.8" stroke="#d62728"/>
<path d="M-261.9 561.8L-173.88 561.8L-173.88 562.9L31.5 562.9L31.5 563.63L104.85 563.63L104.85 564.37L153.26 564.37L153.26 565.47L178.2 565.47L178.2 567.86L217.81 567.86L217.81 576.85L220.74 576.85L220.74 598.5L222.7 598.5L227.1 928.8" stroke="#9467bd"/>
<path d="M-261.9 561.8L-173.88 561.8L-173.88 563.27L31.5 563.27L31.5 564.37L104.85 564.37L104.85 565.47L153.75 565.47L153.75 566.2L178.2 566.2L178.2 568.41L202.65 568.41L202.65 569.14L210.47 569.14L210.47 573.91L215.56 573.91L215.56 585.65L217.32 585.65L217.32 591.16L219.76 591.16L219.76 598.5L223.68 598.5L227.1 928.8" stroke="#8c564b"/>
</g>
<rect x="129.3" y="561.8" width="97.8" height="73.4" fill="none" stroke="#858585" stroke-width="1.0"/>
<line x1="128" y1="635.2" x2="129.3" y2="635.2" stroke="#858585" stroke-width="0.6"/>
<text transform="translate(126.4 636.55) scale(0.3800)" font-size="10" text-anchor="end" fill="#1a1a1a" font-family="'DejaVu Sans', sans-serif" font-weight="normal"  stroke="#1a1a1a" stroke-width="0.25">0.80</text>
<line x1="128" y1="616.85" x2="129.3" y2="616.85" stroke="#858585" stroke-width="0.6"/>
<text transform="translate(126.4 618.2) scale(0.3800)" font-size="10" text-anchor="end" fill="#1a1a1a" font-family="'DejaVu Sans', sans-serif" font-weight="normal"  stroke="#1a1a1a" stroke-width="0.25">0.85</text>
<line x1="128" y1="598.5" x2="129.3" y2="598.5" stroke="#858585" stroke-width="0.6"/>
<text transform="translate(126.4 599.85) scale(0.3800)" font-size="10" text-anchor="end" fill="#1a1a1a" font-family="'DejaVu Sans', sans-serif" font-weight="normal"  stroke="#1a1a1a" stroke-width="0.25">0.90</text>
<line x1="128" y1="580.15" x2="129.3" y2="580.15" stroke="#858585" stroke-width="0.6"/>
<text transform="translate(126.4 581.5) scale(0.3800)" font-size="10" text-anchor="end" fill="#1a1a1a" font-family="'DejaVu Sans', sans-serif" font-weight="normal"  stroke="#1a1a1a" stroke-width="0.25">0.95</text>
<line x1="128" y1="561.8" x2="129.3" y2="561.8" stroke="#858585" stroke-width="0.6"/>
<text transform="translate(126.4 563.15) scale(0.3800)" font-size="10" text-anchor="end" fill="#1a1a1a" font-family="'DejaVu Sans', sans-serif" font-weight="normal"  stroke="#1a1a1a" stroke-width="0.25">1.00</text>
<line x1="129.3" y1="635.2" x2="129.3" y2="636.5" stroke="#858585" stroke-width="0.6"/>
<text transform="translate(129.3 641.4) scale(0.3800)" font-size="10" text-anchor="middle" fill="#1a1a1a" font-family="'DejaVu Sans', sans-serif" font-weight="normal"  stroke="#1a1a1a" stroke-width="0.25">0.8</text>
<line x1="178.2" y1="635.2" x2="178.2" y2="636.5" stroke="#858585" stroke-width="0.6"/>
<text transform="translate(178.2 641.4) scale(0.3800)" font-size="10" text-anchor="middle" fill="#1a1a1a" font-family="'DejaVu Sans', sans-serif" font-weight="normal"  stroke="#1a1a1a" stroke-width="0.25">0.9</text>
<line x1="227.1" y1="635.2" x2="227.1" y2="636.5" stroke="#858585" stroke-width="0.6"/>
<text transform="translate(227.1 641.4) scale(0.3800)" font-size="10" text-anchor="middle" fill="#1a1a1a" font-family="'DejaVu Sans', sans-serif" font-weight="normal"  stroke="#1a1a1a" stroke-width="0.25">1.0</text>
<rect x="25.2" y="501.0" width="217.9" height="162.6" fill="none" stroke="#858585" stroke-width="1.2"/>
<line x1="25.2" y1="663.6" x2="25.2" y2="665.8" stroke="#858585" stroke-width="0.8"/>
<line x1="23" y1="663.6" x2="25.2" y2="663.6" stroke="#858585" stroke-width="0.8"/>
<text transform="translate(25.2 671.2) scale(0.5000)" font-size="10" text-anchor="middle" fill="#1a1a1a" font-family="'DejaVu Sans', sans-serif" font-weight="normal"  stroke="#1a1a1a" stroke-width="0.2">0.0</text>
<text transform="translate(21.6 665.4) scale(0.5000)" font-size="10" text-anchor="end" fill="#1a1a1a" font-family="'DejaVu Sans', sans-serif" font-weight="normal"  stroke="#1a1a1a" stroke-width="0.2">0.0</text>
<line x1="68.01" y1="663.6" x2="68.01" y2="665.8" stroke="#858585" stroke-width="0.8"/>
<line x1="23" y1="631.66" x2="25.2" y2="631.66" stroke="#858585" stroke-width="0.8"/>
<text transform="translate(68.01 671.2) scale(0.5000)" font-size="10" text-anchor="middle" fill="#1a1a1a" font-family="'DejaVu Sans', sans-serif" font-weight="normal"  stroke="#1a1a1a" stroke-width="0.2">0.2</text>
<text transform="translate(21.6 633.46) scale(0.5000)" font-size="10" text-anchor="end" fill="#1a1a1a" font-family="'DejaVu Sans', sans-serif" font-weight="normal"  stroke="#1a1a1a" stroke-width="0.2">0.2</text>
<line x1="110.82" y1="663.6" x2="110.82" y2="665.8" stroke="#858585" stroke-width="0.8"/>
<line x1="23" y1="599.71" x2="25.2" y2="599.71" stroke="#858585" stroke-width="0.8"/>
<text transform="translate(110.82 671.2) scale(0.5000)" font-size="10" text-anchor="middle" fill="#1a1a1a" font-family="'DejaVu Sans', sans-serif" font-weight="normal"  stroke="#1a1a1a" stroke-width="0.2">0.4</text>
<text transform="translate(21.6 601.51) scale(0.5000)" font-size="10" text-anchor="end" fill="#1a1a1a" font-family="'DejaVu Sans', sans-serif" font-weight="normal"  stroke="#1a1a1a" stroke-width="0.2">0.4</text>
<line x1="153.63" y1="663.6" x2="153.63" y2="665.8" stroke="#858585" stroke-width="0.8"/>
<line x1="23" y1="567.77" x2="25.2" y2="567.77" stroke="#858585" stroke-width="0.8"/>
<text transform="translate(153.63 671.2) scale(0.5000)" font-size="10" text-anchor="middle" fill="#1a1a1a" font-family="'DejaVu Sans', sans-serif" font-weight="normal"  stroke="#1a1a1a" stroke-width="0.2">0.6</text>
<text transform="translate(21.6 569.57) scale(0.5000)" font-size="10" text-anchor="end" fill="#1a1a1a" font-family="'DejaVu Sans', sans-serif" font-weight="normal"  stroke="#1a1a1a" stroke-width="0.2">0.6</text>
<line x1="196.44" y1="663.6" x2="196.44" y2="665.8" stroke="#858585" stroke-width="0.8"/>
<line x1="23" y1="535.82" x2="25.2" y2="535.82" stroke="#858585" stroke-width="0.8"/>
<text transform="translate(196.44 671.2) scale(0.5000)" font-size="10" text-anchor="middle" fill="#1a1a1a" font-family="'DejaVu Sans', sans-serif" font-weight="normal"  stroke="#1a1a1a" stroke-width="0.2">0.8</text>
<text transform="translate(21.6 537.62) scale(0.5000)" font-size="10" text-anchor="end" fill="#1a1a1a" font-family="'DejaVu Sans', sans-serif" font-weight="normal"  stroke="#1a1a1a" stroke-width="0.2">0.8</text>
<line x1="239.25" y1="663.6" x2="239.25" y2="665.8" stroke="#858585" stroke-width="0.8"/>
<line x1="23" y1="503.88" x2="25.2" y2="503.88" stroke="#858585" stroke-width="0.8"/>
<text transform="translate(239.25 671.2) scale(0.5000)" font-size="10" text-anchor="middle" fill="#1a1a1a" font-family="'DejaVu Sans', sans-serif" font-weight="normal"  stroke="#1a1a1a" stroke-width="0.2">1.0</text>
<text transform="translate(21.6 505.68) scale(0.5000)" font-size="10" text-anchor="end" fill="#1a1a1a" font-family="'DejaVu Sans', sans-serif" font-weight="normal"  stroke="#1a1a1a" stroke-width="0.2">1.0</text>
<text x="130.5" y="487" font-size="9.75" text-anchor="middle" fill="#1a1a1a" font-family="'DejaVu Sans', sans-serif" font-weight="normal"  stroke="#1a1a1a" stroke-width="0.1">PR curves of fishing boat</text>
<text x="133.9" y="680" font-size="7.7" text-anchor="middle" fill="#1a1a1a" font-family="'DejaVu Sans', sans-serif" font-weight="normal"  stroke="#1a1a1a" stroke-width="0.12">Recall</text>
<text transform="translate(10.2 583.3) rotate(-90)" font-size="7.95" text-anchor="middle" fill="#1a1a1a" font-family="'DejaVu Sans', sans-serif" stroke="#1a1a1a" stroke-width="0.2">Precision</text>
<text x="130.5" y="701" font-size="14.1" text-anchor="middle" fill="#111" font-family="'Liberation Serif', serif" font-weight="bold" >(e)</text>
<clipPath id="c5"><rect x="326.6" y="501.0" width="218.29999999999995" height="163.0"/></clipPath>
<rect x="497.65" y="503.88" width="42.76" height="32.02" fill="none" stroke="#888" stroke-width="0.8"/>
<line x1="497.65" y1="503.88" x2="430.3" y2="561.4" stroke="#888" stroke-width="0.8"/>
<line x1="540.41" y1="535.91" x2="528.4" y2="635.2" stroke="#888" stroke-width="0.8"/>
<g clip-path="url(#c5)" fill="none" stroke-width="0.8" stroke-opacity="0.75" stroke-linejoin="miter">
<path d="M326.6 503.88L540.09 503.88L540.41 664" stroke="#1f77b4"/>
<path d="M326.6 503.88L490.16 503.88L490.16 507.56L512.61 507.56L512.61 511.09L525.66 511.09L525.66 514.61L530.47 514.61L530.47 517.81L535.06 517.81L540.41 664" stroke="#ff7f0e"/>
<path d="M326.6 503.88L441.2 503.88L441.2 507.56L515.61 507.56L515.61 510.61L535.28 510.61L535.28 657.6L535.39 657.6L540.41 664" stroke="#2ca02c"/>
<path d="M326.6 503.88L480.12 503.88L480.12 507.56L512.4 507.56L512.4 510.61L540.24 510.61L540.41 664" stroke="#d62728"/>
<path d="M326.6 503.88L510.6 503.88L510.6 507.56L520.46 507.56L520.46 511.25L530.47 511.25L530.47 514.61L535.06 514.61L535.06 529.02L540.24 529.02L540.41 664" stroke="#9467bd"/>
<path d="M326.6 503.88L428.8 503.88L428.8 507.89L503.12 507.89L503.12 511.73L521.81 511.73L521.81 514.29L526.08 514.29L526.08 523.1L531 523.1L531 535.27L535.28 535.27L540.41 664" stroke="#8c564b"/>
</g>
<rect x="330.4" y="585" width="87.0" height="74" rx="1.5" fill="#fff" fill-opacity="0.85" stroke="#e2e2e2" stroke-width="0.8"/>
<line x1="333.4" y1="592" x2="349.6" y2="592" stroke="#1f77b4" stroke-width="1.3" stroke-opacity="0.65"/>
<text x="355.7" y="594.8" font-size="7.7" text-anchor="start" fill="#1a1a1a" font-family="'DejaVu Sans', sans-serif" font-weight="normal"  stroke="#1a1a1a" stroke-width="0.18">ours</text>
<line x1="333.4" y1="604" x2="349.6" y2="604" stroke="#ff7f0e" stroke-width="1.3" stroke-opacity="0.65"/>
<text x="355.7" y="606.8" font-size="7.7" text-anchor="start" fill="#1a1a1a" font-family="'DejaVu Sans', sans-serif" font-weight="normal"  stroke="#1a1a1a" stroke-width="0.18">tph-YOLOv5</text>
<line x1="333.4" y1="616" x2="349.6" y2="616" stroke="#2ca02c" stroke-width="1.3" stroke-opacity="0.65"/>
<text x="355.7" y="618.8" font-size="7.7" text-anchor="start" fill="#1a1a1a" font-family="'DejaVu Sans', sans-serif" font-weight="normal"  stroke="#1a1a1a" stroke-width="0.18">tph-YOLOv5++</text>
<line x1="333.4" y1="628" x2="349.6" y2="628" stroke="#d62728" stroke-width="1.3" stroke-opacity="0.65"/>
<text x="355.7" y="630.8" font-size="7.7" text-anchor="start" fill="#1a1a1a" font-family="'DejaVu Sans', sans-serif" font-weight="normal"  stroke="#1a1a1a" stroke-width="0.18">YOLOv6</text>
<line x1="333.4" y1="640" x2="349.6" y2="640" stroke="#9467bd" stroke-width="1.3" stroke-opacity="0.65"/>
<text x="355.7" y="642.8" font-size="7.7" text-anchor="start" fill="#1a1a1a" font-family="'DejaVu Sans', sans-serif" font-weight="normal"  stroke="#1a1a1a" stroke-width="0.18">YOLOv7</text>
<line x1="333.4" y1="652" x2="349.6" y2="652" stroke="#8c564b" stroke-width="1.3" stroke-opacity="0.65"/>
<text x="355.7" y="654.8" font-size="7.7" text-anchor="start" fill="#1a1a1a" font-family="'DejaVu Sans', sans-serif" font-weight="normal"  stroke="#1a1a1a" stroke-width="0.18">YOLOv8</text>
<clipPath id="ic5"><rect x="430.8" y="561.9" width="97.6" height="73.3"/></clipPath>
<rect x="430.3" y="561.4" width="98.09999999999997" height="73.80000000000007" fill="#fff"/>
<line x1="430.3" y1="561.4" x2="430.3" y2="635.2" stroke="#d0d0d0" stroke-width="0.6"/>
<line x1="479.35" y1="561.4" x2="479.35" y2="635.2" stroke="#d0d0d0" stroke-width="0.6"/>
<line x1="528.4" y1="561.4" x2="528.4" y2="635.2" stroke="#d0d0d0" stroke-width="0.6"/>
<line x1="430.3" y1="635.2" x2="528.4" y2="635.2" stroke="#d0d0d0" stroke-width="0.6"/>
<line x1="430.3" y1="616.75" x2="528.4" y2="616.75" stroke="#d0d0d0" stroke-width="0.6"/>
<line x1="430.3" y1="598.3" x2="528.4" y2="598.3" stroke="#d0d0d0" stroke-width="0.6"/>
<line x1="430.3" y1="579.85" x2="528.4" y2="579.85" stroke="#d0d0d0" stroke-width="0.6"/>
<line x1="430.3" y1="561.4" x2="528.4" y2="561.4" stroke="#d0d0d0" stroke-width="0.6"/>
<g clip-path="url(#ic5)" fill="none" stroke-width="0.8" stroke-opacity="0.8">
<path d="M37.9 561.4L527.66 561.4L528.4 930.4" stroke="#1f77b4"/>
<path d="M37.9 561.4L413.13 561.4L413.13 569.89L464.63 569.89L464.63 578L494.56 578L494.56 586.12L505.59 586.12L505.59 593.5L516.14 593.5L528.4 930.4" stroke="#ff7f0e"/>
<path d="M37.9 561.4L300.81 561.4L300.81 569.89L471.5 569.89L471.5 576.9L516.63 576.9L516.63 915.64L516.87 915.64L528.4 930.4" stroke="#2ca02c"/>
<path d="M37.9 561.4L390.08 561.4L390.08 569.89L464.14 569.89L464.14 576.9L528.01 576.9L528.4 930.4" stroke="#d62728"/>
<path d="M37.9 561.4L460.02 561.4L460.02 569.89L482.64 569.89L482.64 578.37L505.59 578.37L505.59 586.12L516.14 586.12L516.14 619.33L528.01 619.33L528.4 930.4" stroke="#9467bd"/>
<path d="M37.9 561.4L272.36 561.4L272.36 570.62L442.86 570.62L442.86 579.48L485.73 579.48L485.73 585.38L495.54 585.38L495.54 605.68L506.82 605.68L506.82 633.72L516.63 633.72L528.4 930.4" stroke="#8c564b"/>
</g>
<rect x="430.3" y="561.4" width="98.1" height="73.8" fill="none" stroke="#858585" stroke-width="1.0"/>
<line x1="429" y1="635.2" x2="430.3" y2="635.2" stroke="#858585" stroke-width="0.6"/>
<text transform="translate(427.4 636.55) scale(0.3800)" font-size="10" text-anchor="end" fill="#1a1a1a" font-family="'DejaVu Sans', sans-serif" font-weight="normal"  stroke="#1a1a1a" stroke-width="0.25">0.80</text>
<line x1="429" y1="616.75" x2="430.3" y2="616.75" stroke="#858585" stroke-width="0.6"/>
<text transform="translate(427.4 618.1) scale(0.3800)" font-size="10" text-anchor="end" fill="#1a1a1a" font-family="'DejaVu Sans', sans-serif" font-weight="normal"  stroke="#1a1a1a" stroke-width="0.25">0.85</text>
<line x1="429" y1="598.3" x2="430.3" y2="598.3" stroke="#858585" stroke-width="0.6"/>
<text transform="translate(427.4 599.65) scale(0.3800)" font-size="10" text-anchor="end" fill="#1a1a1a" font-family="'DejaVu Sans', sans-serif" font-weight="normal"  stroke="#1a1a1a" stroke-width="0.25">0.90</text>
<line x1="429" y1="579.85" x2="430.3" y2="579.85" stroke="#858585" stroke-width="0.6"/>
<text transform="translate(427.4 581.2) scale(0.3800)" font-size="10" text-anchor="end" fill="#1a1a1a" font-family="'DejaVu Sans', sans-serif" font-weight="normal"  stroke="#1a1a1a" stroke-width="0.25">0.95</text>
<line x1="429" y1="561.4" x2="430.3" y2="561.4" stroke="#858585" stroke-width="0.6"/>
<text transform="translate(427.4 562.75) scale(0.3800)" font-size="10" text-anchor="end" fill="#1a1a1a" font-family="'DejaVu Sans', sans-serif" font-weight="normal"  stroke="#1a1a1a" stroke-width="0.25">1.00</text>
<line x1="430.3" y1="635.2" x2="430.3" y2="636.5" stroke="#858585" stroke-width="0.6"/>
<text transform="translate(430.3 641.4) scale(0.3800)" font-size="10" text-anchor="middle" fill="#1a1a1a" font-family="'DejaVu Sans', sans-serif" font-weight="normal"  stroke="#1a1a1a" stroke-width="0.25">0.8</text>
<line x1="479.35" y1="635.2" x2="479.35" y2="636.5" stroke="#858585" stroke-width="0.6"/>
<text transform="translate(479.35 641.4) scale(0.3800)" font-size="10" text-anchor="middle" fill="#1a1a1a" font-family="'DejaVu Sans', sans-serif" font-weight="normal"  stroke="#1a1a1a" stroke-width="0.25">0.9</text>
<line x1="528.4" y1="635.2" x2="528.4" y2="636.5" stroke="#858585" stroke-width="0.6"/>
<text transform="translate(528.4 641.4) scale(0.3800)" font-size="10" text-anchor="middle" fill="#1a1a1a" font-family="'DejaVu Sans', sans-serif" font-weight="normal"  stroke="#1a1a1a" stroke-width="0.25">1.0</text>
<rect x="326.6" y="501.0" width="218.3" height="163" fill="none" stroke="#858585" stroke-width="1.2"/>
<line x1="326.6" y1="664.0" x2="326.6" y2="666.2" stroke="#858585" stroke-width="0.8"/>
<line x1="324.4" y1="664" x2="326.6" y2="664" stroke="#858585" stroke-width="0.8"/>
<text transform="translate(326.6 671.6) scale(0.5000)" font-size="10" text-anchor="middle" fill="#1a1a1a" font-family="'DejaVu Sans', sans-serif" font-weight="normal"  stroke="#1a1a1a" stroke-width="0.2">0.0</text>
<text transform="translate(323 665.8) scale(0.5000)" font-size="10" text-anchor="end" fill="#1a1a1a" font-family="'DejaVu Sans', sans-serif" font-weight="normal"  stroke="#1a1a1a" stroke-width="0.2">0.0</text>
<line x1="369.36" y1="664.0" x2="369.36" y2="666.2" stroke="#858585" stroke-width="0.8"/>
<line x1="324.4" y1="631.98" x2="326.6" y2="631.98" stroke="#858585" stroke-width="0.8"/>
<text transform="translate(369.36 671.6) scale(0.5000)" font-size="10" text-anchor="middle" fill="#1a1a1a" font-family="'DejaVu Sans', sans-serif" font-weight="normal"  stroke="#1a1a1a" stroke-width="0.2">0.2</text>
<text transform="translate(323 633.78) scale(0.5000)" font-size="10" text-anchor="end" fill="#1a1a1a" font-family="'DejaVu Sans', sans-serif" font-weight="normal"  stroke="#1a1a1a" stroke-width="0.2">0.2</text>
<line x1="412.12" y1="664.0" x2="412.12" y2="666.2" stroke="#858585" stroke-width="0.8"/>
<line x1="324.4" y1="599.95" x2="326.6" y2="599.95" stroke="#858585" stroke-width="0.8"/>
<text transform="translate(412.12 671.6) scale(0.5000)" font-size="10" text-anchor="middle" fill="#1a1a1a" font-family="'DejaVu Sans', sans-serif" font-weight="normal"  stroke="#1a1a1a" stroke-width="0.2">0.4</text>
<text transform="translate(323 601.75) scale(0.5000)" font-size="10" text-anchor="end" fill="#1a1a1a" font-family="'DejaVu Sans', sans-serif" font-weight="normal"  stroke="#1a1a1a" stroke-width="0.2">0.4</text>
<line x1="454.89" y1="664.0" x2="454.89" y2="666.2" stroke="#858585" stroke-width="0.8"/>
<line x1="324.4" y1="567.93" x2="326.6" y2="567.93" stroke="#858585" stroke-width="0.8"/>
<text transform="translate(454.89 671.6) scale(0.5000)" font-size="10" text-anchor="middle" fill="#1a1a1a" font-family="'DejaVu Sans', sans-serif" font-weight="normal"  stroke="#1a1a1a" stroke-width="0.2">0.6</text>
<text transform="translate(323 569.73) scale(0.5000)" font-size="10" text-anchor="end" fill="#1a1a1a" font-family="'DejaVu Sans', sans-serif" font-weight="normal"  stroke="#1a1a1a" stroke-width="0.2">0.6</text>
<line x1="497.65" y1="664.0" x2="497.65" y2="666.2" stroke="#858585" stroke-width="0.8"/>
<line x1="324.4" y1="535.91" x2="326.6" y2="535.91" stroke="#858585" stroke-width="0.8"/>
<text transform="translate(497.65 671.6) scale(0.5000)" font-size="10" text-anchor="middle" fill="#1a1a1a" font-family="'DejaVu Sans', sans-serif" font-weight="normal"  stroke="#1a1a1a" stroke-width="0.2">0.8</text>
<text transform="translate(323 537.71) scale(0.5000)" font-size="10" text-anchor="end" fill="#1a1a1a" font-family="'DejaVu Sans', sans-serif" font-weight="normal"  stroke="#1a1a1a" stroke-width="0.2">0.8</text>
<line x1="540.41" y1="664.0" x2="540.41" y2="666.2" stroke="#858585" stroke-width="0.8"/>
<line x1="324.4" y1="503.88" x2="326.6" y2="503.88" stroke="#858585" stroke-width="0.8"/>
<text transform="translate(540.41 671.6) scale(0.5000)" font-size="10" text-anchor="middle" fill="#1a1a1a" font-family="'DejaVu Sans', sans-serif" font-weight="normal"  stroke="#1a1a1a" stroke-width="0.2">1.0</text>
<text transform="translate(323 505.68) scale(0.5000)" font-size="10" text-anchor="end" fill="#1a1a1a" font-family="'DejaVu Sans', sans-serif" font-weight="normal"  stroke="#1a1a1a" stroke-width="0.2">1.0</text>
<text x="432.1" y="487" font-size="9.75" text-anchor="middle" fill="#1a1a1a" font-family="'DejaVu Sans', sans-serif" font-weight="normal"  stroke="#1a1a1a" stroke-width="0.1">PR curves of passenger carrier</text>
<text x="435.5" y="680" font-size="7.7" text-anchor="middle" fill="#1a1a1a" font-family="'DejaVu Sans', sans-serif" font-weight="normal"  stroke="#1a1a1a" stroke-width="0.12">Recall</text>
<text transform="translate(311.6 583.5) rotate(-90)" font-size="7.95" text-anchor="middle" fill="#1a1a1a" font-family="'DejaVu Sans', sans-serif" stroke="#1a1a1a" stroke-width="0.2">Precision</text>
<text x="432" y="701" font-size="14.1" text-anchor="middle" fill="#111" font-family="'Liberation Serif', serif" font-weight="bold" >(f)</text>
</g>
</svg>
</body></html>
